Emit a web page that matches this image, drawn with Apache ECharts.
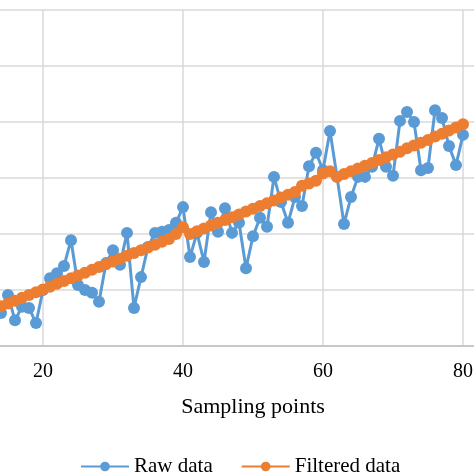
<!DOCTYPE html>
<html>
<head>
<meta charset="utf-8">
<script src="https://cdn.jsdelivr.net/npm/echarts@6/dist/echarts.min.js"></script>
<style>html,body{margin:0;padding:0;background:#fff;overflow:hidden;width:474px;height:474px}
#chart{position:absolute;left:-105px;top:0;width:726px;height:474px}</style>
</head>
<body>
<div id="chart"></div>
<script>
// sampling point index
const samplePoints = [14, 15, 16, 17, 18, 19, 20, 21, 22, 23, 24, 25, 26, 27, 28, 29, 30, 31, 32, 33, 34, 35, 36, 37, 38, 39, 40,
  41, 42, 43, 44, 45, 46, 47, 48, 49, 50, 51, 52, 53, 54, 55, 56, 57, 58, 59, 60, 61, 62, 63, 64, 65, 66, 67, 68, 69, 70,
  71, 72, 73, 74, 75, 76, 77, 78, 79, 80];
const rawData = [0.59, 0.91, 0.46, 0.70, 0.68, 0.41, 1.00, 1.21, 1.30, 1.43, 1.89, 1.09, 1.00, 0.95, 0.79, 1.48, 1.71, 1.45, 2.02, 0.68, 1.23, 1.77, 2.02, 2.04, 2.07, 2.20, 2.48,
  1.59, 2.02, 1.50, 2.39, 2.04, 2.46, 2.02, 2.20, 1.39, 1.96, 2.29, 2.13, 3.02, 2.57, 2.20, 2.66, 2.50, 3.21, 3.45, 3.14, 3.84, 3.02, 2.18, 2.66, 3.02, 3.02, 3.20, 3.70, 3.20, 3.04,
  4.02, 4.18, 4.00, 3.14, 3.18, 4.21, 4.07, 3.57, 3.23, 3.77];
const filteredData = [0.71, 0.76, 0.81, 0.86, 0.91, 0.96, 1.01, 1.06, 1.11, 1.16, 1.21, 1.26, 1.31, 1.36, 1.41, 1.46, 1.51, 1.56, 1.61, 1.66, 1.71, 1.76, 1.81, 1.86, 1.91, 2.00, 2.12,
  2.00, 2.05, 2.10, 2.15, 2.20, 2.25, 2.30, 2.35, 2.40, 2.45, 2.50, 2.55, 2.60, 2.65, 2.70, 2.75, 2.86, 2.90, 2.95, 3.08, 3.12, 3.02, 3.07, 3.12, 3.17, 3.22, 3.27, 3.32, 3.37, 3.42,
  3.47, 3.53, 3.58, 3.63, 3.68, 3.74, 3.79, 3.85, 3.90, 3.96];

const chart = echarts.init(document.getElementById('chart'));
const font = '"Liberation Serif", "Times New Roman", serif';

chart.setOption({
  animation: false,
  textStyle: { fontFamily: font },
  grid: { left: 0, right: 0, top: 10, bottom: 128 },
  legend: {
    bottom: -8,
    left: 180,
    itemGap: 28,
    itemWidth: 48,
    itemHeight: 12,
    textStyle: { fontFamily: font, fontSize: 21, color: '#000' },
    data: ['Raw data', 'Filtered data']
  },
  xAxis: {
    type: 'value', min: 0, max: 100, interval: 20,
    name: 'Sampling points', nameLocation: 'middle', nameGap: 50,
    nameTextStyle: { fontFamily: font, fontSize: 22, color: '#000' },
    axisLine: { lineStyle: { color: '#bfbfbf', width: 1.5 } },
    axisTick: { show: false },
    axisLabel: { fontFamily: font, fontSize: 20, color: '#000', margin: 16 },
    splitLine: { lineStyle: { color: '#d9d9d9', width: 1.5 } }
  },
  yAxis: {
    type: 'value', min: 0, max: 6, interval: 1,
    axisLine: { show: false }, axisTick: { show: false }, axisLabel: { show: false },
    splitLine: { lineStyle: { color: '#d9d9d9', width: 1.5 } }
  },
  series: [
    {
      name: 'Raw data', type: 'line',
      data: samplePoints.map((n, i) => [n, rawData[i]]),
      symbol: 'circle', symbolSize: 12,
      itemStyle: { color: '#5B9BD5' },
      lineStyle: { color: '#5B9BD5', width: 3 }
    },
    {
      name: 'Filtered data', type: 'line',
      data: samplePoints.map((n, i) => [n, filteredData[i]]),
      symbol: 'circle', symbolSize: 12,
      itemStyle: { color: '#ED7D31' },
      lineStyle: { color: '#ED7D31', width: 5 }
    }
  ]
});
</script>
</body>
</html>
